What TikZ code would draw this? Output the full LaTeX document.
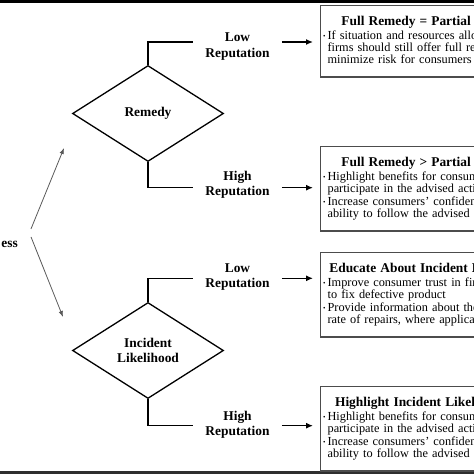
\documentclass[tikz,border=0pt]{standalone}
\usepackage{fontspec}
\setmainfont{Liberation Serif}
\usetikzlibrary{shapes.geometric,arrows.meta}
\newcommand\lbfont{\fontsize{13.4}{15.5}\selectfont\bfseries}
\newcommand\bodyfont{\fontsize{12.3}{11.7}\selectfont}
\newcommand\boxtitle[1]{{\centering\lbfont\rule{0pt}{20pt}#1\par}\vspace{2.3pt}}
\newcommand\bl[1]{\par\mbox{\makebox[4.5pt][l]{\raisebox{1pt}{\fontsize{7}{7}\selectfont •}}#1}}
\newcommand\cl[1]{\par\mbox{\hspace*{4.5pt}#1}}
\newcommand\bsep{\par\vspace{1.3pt}}
\newcommand\lastline{\rule[-14pt]{0pt}{14pt}}
\begin{document}
\begin{tikzpicture}[x=1pt,y=-1pt,
  lbl/.style={font=\lbfont, align=center, inner xsep=12.2pt, inner ysep=0pt},
  dia/.style={draw, line width=1.3pt, shape=diamond, aspect=1.557, minimum width=151pt, minimum height=96pt, inner sep=0pt, font=\lbfont, align=center},
  conn/.style={line width=1.3pt},
  arr/.style={line width=1.3pt, -{Latex[length=7pt,width=6pt]}, shorten >=7pt},
  faint/.style={draw=black!65, line width=0.8pt, -{Latex[length=6pt,width=4.5pt]}},
  abox/.style={draw=black!70, line width=1.2pt, anchor=north west, text width=217pt, inner xsep=2.5pt, inner ysep=0pt, font=\bodyfont, align=left}
]
\useasboundingbox (0,0) rectangle (474,474);
\clip (0,0) rectangle (474,474);
\fill[black] (0,0) rectangle (474,2.8);
\fill[black!82] (0,471) rectangle (474,474);

% source text
\node[font=\lbfont, anchor=base east, inner xsep=13pt, inner ysep=0pt] (src) at (31,247) {ess};
\coordinate (t1) at (64,148);
\coordinate (t2) at (63,317);
\draw[faint] ([yshift=15pt]src.east) -- (t1);
\draw[faint] ([yshift=7pt]src.east) -- (t2);

% diamonds
\node[dia] (d1) at (148,113.5) {Remedy};
\node[dia] (d2) at (148,350.5) {Incident\\Likelihood};

% labels
\node[lbl] (l1) at (237.5,46.3) {Low\\Reputation};
\node[lbl] (h1) at (237.5,184.6) {High\\Reputation};
\node[lbl] (l2) at (237.5,277) {Low\\Reputation};
\node[lbl] (h2) at (237.5,425) {High\\Reputation};

% boxes
\node[abox] (b1) at (320,5) {\boxtitle{Full Remedy = Partial Remedy}%
  \bl{If situation and resources allow,}%
  \cl{firms should still offer full remedy to}%
  \cl{minimize risk for consumers\lastline}};
\node[abox] (b2) at (320,146) {\boxtitle{Full Remedy > Partial Remedy}%
  \bl{Highlight benefits for consumers to}%
  \cl{participate in the advised action}\bsep
  \bl{Increase consumers’ confidence in their}%
  \cl{ability to follow the advised action\lastline}};
\node[abox] (b3) at (320,252) {\boxtitle{Educate About Incident Likelihood}%
  \bl{Improve consumer trust in firm’s ability}%
  \cl{to fix defective product}\bsep
  \bl{Provide information about the success}%
  \cl{rate of repairs, where applicable\lastline}};
\node[abox, text width=196pt] (b4) at (320,386) {\boxtitle{Highlight Incident Likelihood}%
  \bl{Highlight benefits for consumers to}%
  \cl{participate in the advised action}\bsep
  \bl{Increase consumers’ confidence in their}%
  \cl{ability to follow the advised action\lastline}};

% connectors
\coordinate (pl1) at ([yshift=4.3pt]l1.east);
\coordinate (ph1) at ([yshift=-3.1pt]h1.east);
\coordinate (pl2) at ([yshift=-1.3pt]l2.east);
\coordinate (ph2) at ([yshift=-0.7pt]h2.east);
\draw[conn] (d1.north) |- ([yshift=4.3pt]l1.west);
\draw[conn] (d1.south) |- ([yshift=-3.1pt]h1.west);
\draw[conn] (d2.north) |- ([yshift=-1.3pt]l2.west);
\draw[conn] (d2.south) |- ([yshift=-0.7pt]h2.west);
\draw[arr] (pl1) -- (pl1 -| b1.west);
\draw[arr] (ph1) -- (ph1 -| b2.west);
\draw[arr] (pl2) -- (pl2 -| b3.west);
\draw[arr] (ph2) -- (ph2 -| b4.west);
\end{tikzpicture}
\end{document}
